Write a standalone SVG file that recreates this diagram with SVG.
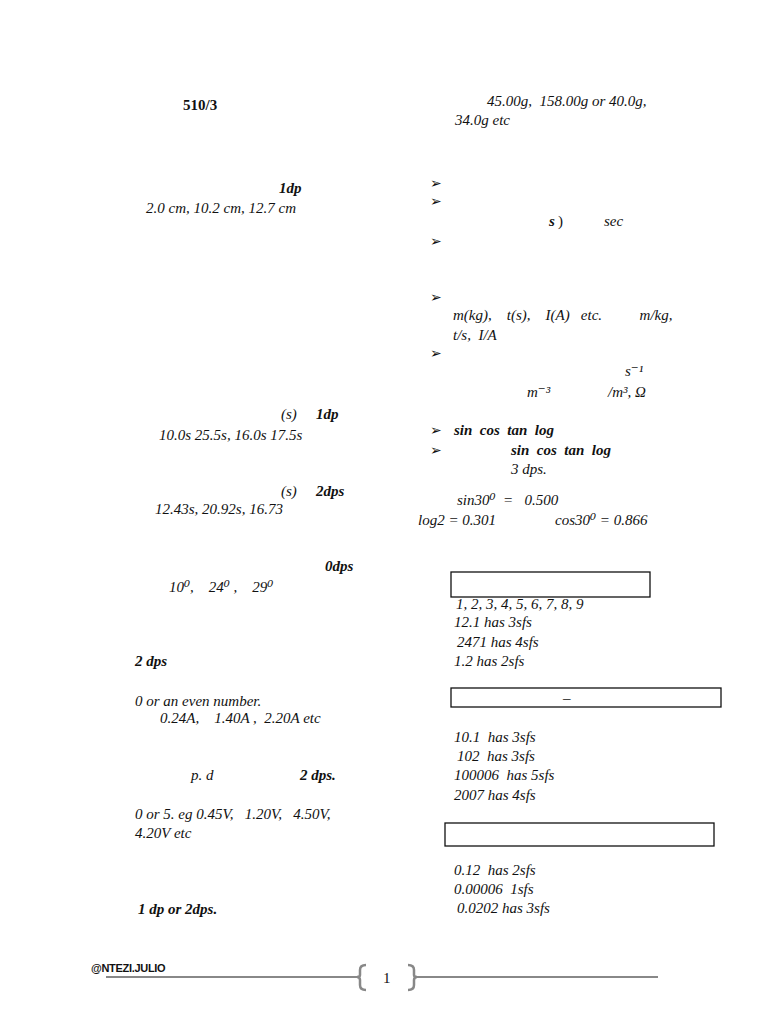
<svg xmlns="http://www.w3.org/2000/svg" width="768" height="1024" viewBox="0 0 768 1024">
<style>
text{font-family:"Liberation Serif","DejaVu Serif",serif;font-size:15px;fill:#111;font-style:italic;white-space:pre}
.b{font-weight:bold}
.n{font-style:normal}
.ar{font-family:"DejaVu Sans",sans-serif;font-style:normal;font-size:14px}
.box{fill:none;stroke:#111;stroke-width:1.3}
</style>
<rect width="768" height="1024" fill="#fff"/>
<g id="left">
<text x="183" y="110" class="b n" font-size="18">510/3</text>
<text x="279" y="193" class="b">1dp</text>
<text x="146" y="213">2.0 cm, 10.2 cm, 12.7 cm</text>
<text x="281" y="419">(s)</text><text x="316" y="419" class="b">1dp</text>
<text x="159" y="440">10.0s 25.5s, 16.0s 17.5s</text>
<text x="281" y="496">(s)</text><text x="316" y="496" class="b">2dps</text>
<text x="155" y="514">12.43s, 20.92s, 16.73</text>
<text x="325" y="571" class="b">0dps</text>
<text x="169" y="592">10⁰,    24⁰ ,    29⁰</text>
<text x="135" y="666" class="b">2 dps</text>
<text x="135" y="706">0 or an even number.</text>
<text x="160" y="723">0.24A,    1.40A ,  2.20A etc</text>
<text x="191" y="780">p. d</text><text x="300" y="780" class="b">2 dps.</text>
<text x="135" y="819">0 or 5. eg 0.45V,   1.20V,   4.50V,</text>
<text x="135" y="838">4.20V etc</text>
<text x="138" y="914" class="b">1 dp or 2dps.</text>
</g>
<g id="right">
<text x="487" y="106">45.00g,  158.00g or 40.0g,</text>
<text x="455" y="125">34.0g etc</text>
<text x="430" y="188" class="ar">➢</text>
<text x="430" y="206" class="ar">➢</text>
<text x="549" y="226" class="b">s</text><text x="558" y="226" class="n">)</text>
<text x="604" y="226">sec</text>
<text x="430" y="246" class="ar">➢</text>
<text x="430" y="302" class="ar">➢</text>
<text x="453" y="320">m(kg),    t(s),    I(A)   etc.          m/kg,</text>
<text x="453" y="340">t/s,  I/A</text>
<text x="430" y="358" class="ar">➢</text>
<text x="625" y="376">s⁻¹</text>
<text x="527" y="397">m⁻³</text>
<text x="608" y="397">/m³, Ω</text>
<text x="430" y="435" class="ar">➢</text>
<text x="454" y="435" class="b">sin  cos  tan  log</text>
<text x="430" y="455" class="ar">➢</text>
<text x="511" y="455" class="b">sin  cos  tan  log</text>
<text x="511" y="474">3 dps.</text>
<text x="457" y="505">sin30⁰  =   0.500</text>
<text x="418" y="525">log2 = 0.301</text>
<text x="555" y="525">cos30⁰ = 0.866</text>
</g>
<g id="box1">
<rect class="box" x="451" y="572" width="199" height="25"/>
<text x="456" y="609">1, 2, 3, 4, 5, 6, 7, 8, 9</text>
<text x="454" y="627">12.1 has 3sfs</text>
<text x="457" y="647">2471 has 4sfs</text>
<text x="454" y="666">1.2 has 2sfs</text>
</g>
<g id="box2">
<rect class="box" x="451" y="688" width="270" height="19"/>
<text x="563" y="703" class="n">–</text>
<text x="454" y="742">10.1  has 3sfs</text>
<text x="457" y="761">102  has 3sfs</text>
<text x="454" y="780">100006  has 5sfs</text>
<text x="454" y="800">2007 has 4sfs</text>
</g>
<g id="box3">
<rect class="box" x="445" y="823" width="269" height="23"/>
<text x="454" y="875">0.12  has 2sfs</text>
<text x="454" y="894">0.00006  1sfs</text>
<text x="457" y="913">0.0202 has 3sfs</text>
</g>
<g id="footer">
<text x="91" y="972" style="font-family:'Liberation Sans',sans-serif;font-style:normal;font-weight:bold;font-size:11px;letter-spacing:-0.3px">@NTEZI.JULIO</text>
<line x1="106" y1="977" x2="357" y2="977" stroke="#888" stroke-width="2"/>
<line x1="417" y1="977" x2="658" y2="977" stroke="#888" stroke-width="2"/>
<path d="M366 965 Q360 965 360 970 L360 975 Q360 977 357 977 Q360 977 360 980 L360 985 Q360 990 366 990" fill="none" stroke="#888" stroke-width="2.5"/>
<path d="M408 965 Q414 965 414 970 L414 975 Q414 977 417 977 Q414 977 414 980 L414 985 Q414 990 408 990" fill="none" stroke="#888" stroke-width="2.5"/>
<text x="383" y="983" class="n" font-size="12">1</text>
</g>
</svg>
